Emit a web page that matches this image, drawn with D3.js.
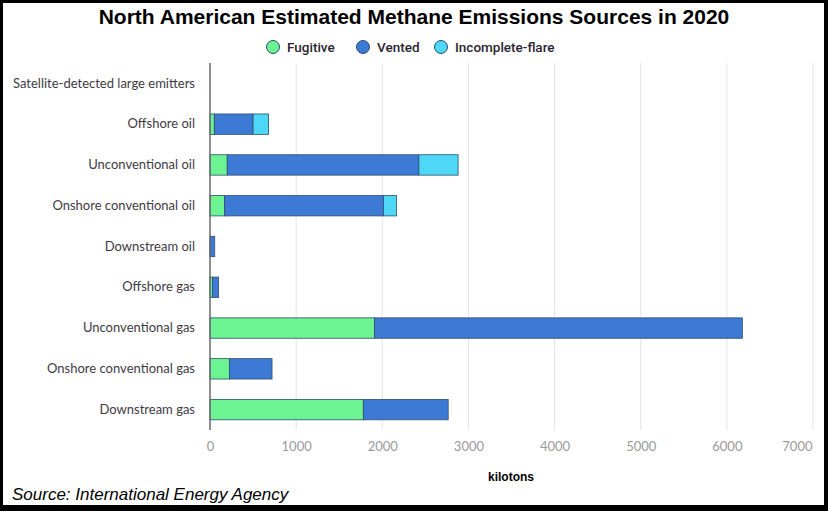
<!DOCTYPE html>
<html>
<head>
<meta charset="utf-8">
<script src="https://cdn.jsdelivr.net/npm/d3@7"></script>
<style>
  body { margin: 0; background: #000; }
  svg { display: block; }
</style>
</head>
<body>
<div id="chart"></div>
<script>
// data (kilotons)
const categories = ["Satellite-detected large emitters", "Offshore oil", "Unconventional oil",
    "Onshore conventional oil", "Downstream oil", "Offshore gas", "Unconventional gas",
    "Onshore conventional gas", "Downstream gas"];
const fugitive = [0, 50, 200, 170, 5, 30, 1910, 225, 1780];
const vented = [0, 450, 2225, 1845, 50, 70, 4270, 495, 985];
const incompleteFlare = [0, 180, 455, 150, 0, 0, 0, 0, 0];
const seriesNames = ["Fugitive", "Vented", "Incomplete-flare"];
const xTicks = [0, 1000, 2000, 3000, 4000, 5000, 6000, 7000];

function methaneChart() {
    const W = 828, H = 511;
    const margin = { top: 63, right: 15, bottom: 81, left: 210 };
    const width = W - margin.left - margin.right;
    const height = H - margin.top - margin.bottom;

    const root = d3.select("#chart")
        .append("svg")
        .attr("width", W)
        .attr("height", H);

    // black frame with white card
    root.append("rect").attr("width", W).attr("height", H).attr("fill", "#000");
    root.append("rect").attr("x", 3).attr("y", 3).attr("width", 821).attr("height", 502).attr("fill", "#fff");

    const svg = root.append("g")
        .attr("transform", `translate(${margin.left}, ${margin.top})`);

    const data = categories.map((c, i) => ({
        cat: c,
        "Fugitive": fugitive[i],
        "Vented": vented[i],
        "Incomplete-flare": incompleteFlare[i]
    }));

    const stackedData = d3.stack().keys(seriesNames)(data);

    const xScale = d3.scaleLinear().domain([0, 7000]).range([0, 603]);
    const yScale = d3.scaleBand().domain(categories).range([0, height])
        .paddingInner(0.5).paddingOuter(0.25);

    const color = d3.scaleOrdinal()
        .domain(seriesNames)
        .range(["#6cf392", "#3d7ad6", "#4fd7f8"]);

    // vertical grid lines
    svg.append("g")
        .selectAll("line")
        .data(xTicks.filter(d => d > 0))
        .join("line")
        .attr("x1", d => xScale(d))
        .attr("x2", d => xScale(d))
        .attr("y1", 0)
        .attr("y2", height)
        .attr("stroke", "#e4e4e4")
        .attr("stroke-width", 1);

    // x axis labels
    const xAxis = svg.append("g")
        .attr("transform", `translate(0, ${height})`)
        .call(d3.axisBottom(xScale).tickValues(xTicks).tickSize(0).tickPadding(12).tickFormat(d3.format("d")));
    xAxis.select(".domain").remove();
    xAxis.selectAll("text")
        .style("font-family", "Lato, 'Open Sans', sans-serif")
        .style("font-size", "13px")
        .style("fill", "#9a9a9a");
    // last label is pulled inside the card, as in the original
    xAxis.selectAll(".tick").filter(d => d === 7000).select("text")
        .attr("text-anchor", "end")
        .attr("x", -1);

    // y axis labels
    const yAxis = svg.append("g")
        .call(d3.axisLeft(yScale).tickSize(0).tickPadding(15));
    yAxis.select(".domain").remove();
    yAxis.selectAll("text")
        .style("font-family", "Lato, 'Open Sans', sans-serif")
        .style("font-size", "13px")
        .style("fill", "#3f3a45");

    // bars
    svg.append("g")
        .selectAll("g")
        .data(stackedData)
        .join("g")
        .attr("fill", d => color(d.key))
        .selectAll("rect")
        .data(d => d.filter(s => s[1] - s[0] > 0))
        .join("rect")
        .attr("x", d => xScale(d[0]))
        .attr("y", d => yScale(d.data.cat))
        .attr("width", d => xScale(d[1]) - xScale(d[0]))
        .attr("height", yScale.bandwidth())
        .attr("stroke", "#2d4f6c")
        .attr("stroke-width", 0.8);

    // zero axis line
    svg.append("line")
        .attr("x1", 0).attr("x2", 0)
        .attr("y1", 0).attr("y2", height)
        .attr("stroke", "#6a6a6a")
        .attr("stroke-width", 1.5);

    // title
    root.append("text")
        .attr("x", 414)
        .attr("y", 24)
        .attr("text-anchor", "middle")
        .style("font-family", "'Liberation Sans', Arial, sans-serif")
        .style("font-weight", "bold")
        .style("font-size", "21px")
        .style("fill", "#000")
        .text("North American Estimated Methane Emissions Sources in 2020");

    // legend
    const legendX = [273, 363, 441];
    const legend = root.append("g");
    const legendItems = legend.selectAll("g")
        .data(seriesNames)
        .join("g")
        .attr("transform", (d, i) => `translate(${legendX[i]}, 47)`);
    legendItems.append("circle")
        .attr("r", 6.5)
        .attr("fill", color)
        .attr("stroke", "#2d4f6c")
        .attr("stroke-width", 1);
    legendItems.append("text")
        .attr("x", 14)
        .attr("dy", "0.35em")
        .style("font-family", "Roboto, sans-serif")
        .style("font-weight", "500")
        .style("font-size", "13.5px")
        .style("fill", "#2a2530")
        .text(d => d);

    // x axis title
    root.append("text")
        .attr("x", 511)
        .attr("y", 481)
        .attr("text-anchor", "middle")
        .style("font-family", "'Liberation Sans', Arial, sans-serif")
        .style("font-weight", "bold")
        .style("font-size", "12px")
        .style("fill", "#000")
        .text("kilotons");

    // source
    root.append("text")
        .attr("x", 12)
        .attr("y", 500)
        .style("font-family", "'Liberation Sans', Arial, sans-serif")
        .style("font-style", "italic")
        .style("font-size", "17px")
        .style("fill", "#000")
        .text("Source: International Energy Agency");
}

methaneChart();
</script>
</body>
</html>
